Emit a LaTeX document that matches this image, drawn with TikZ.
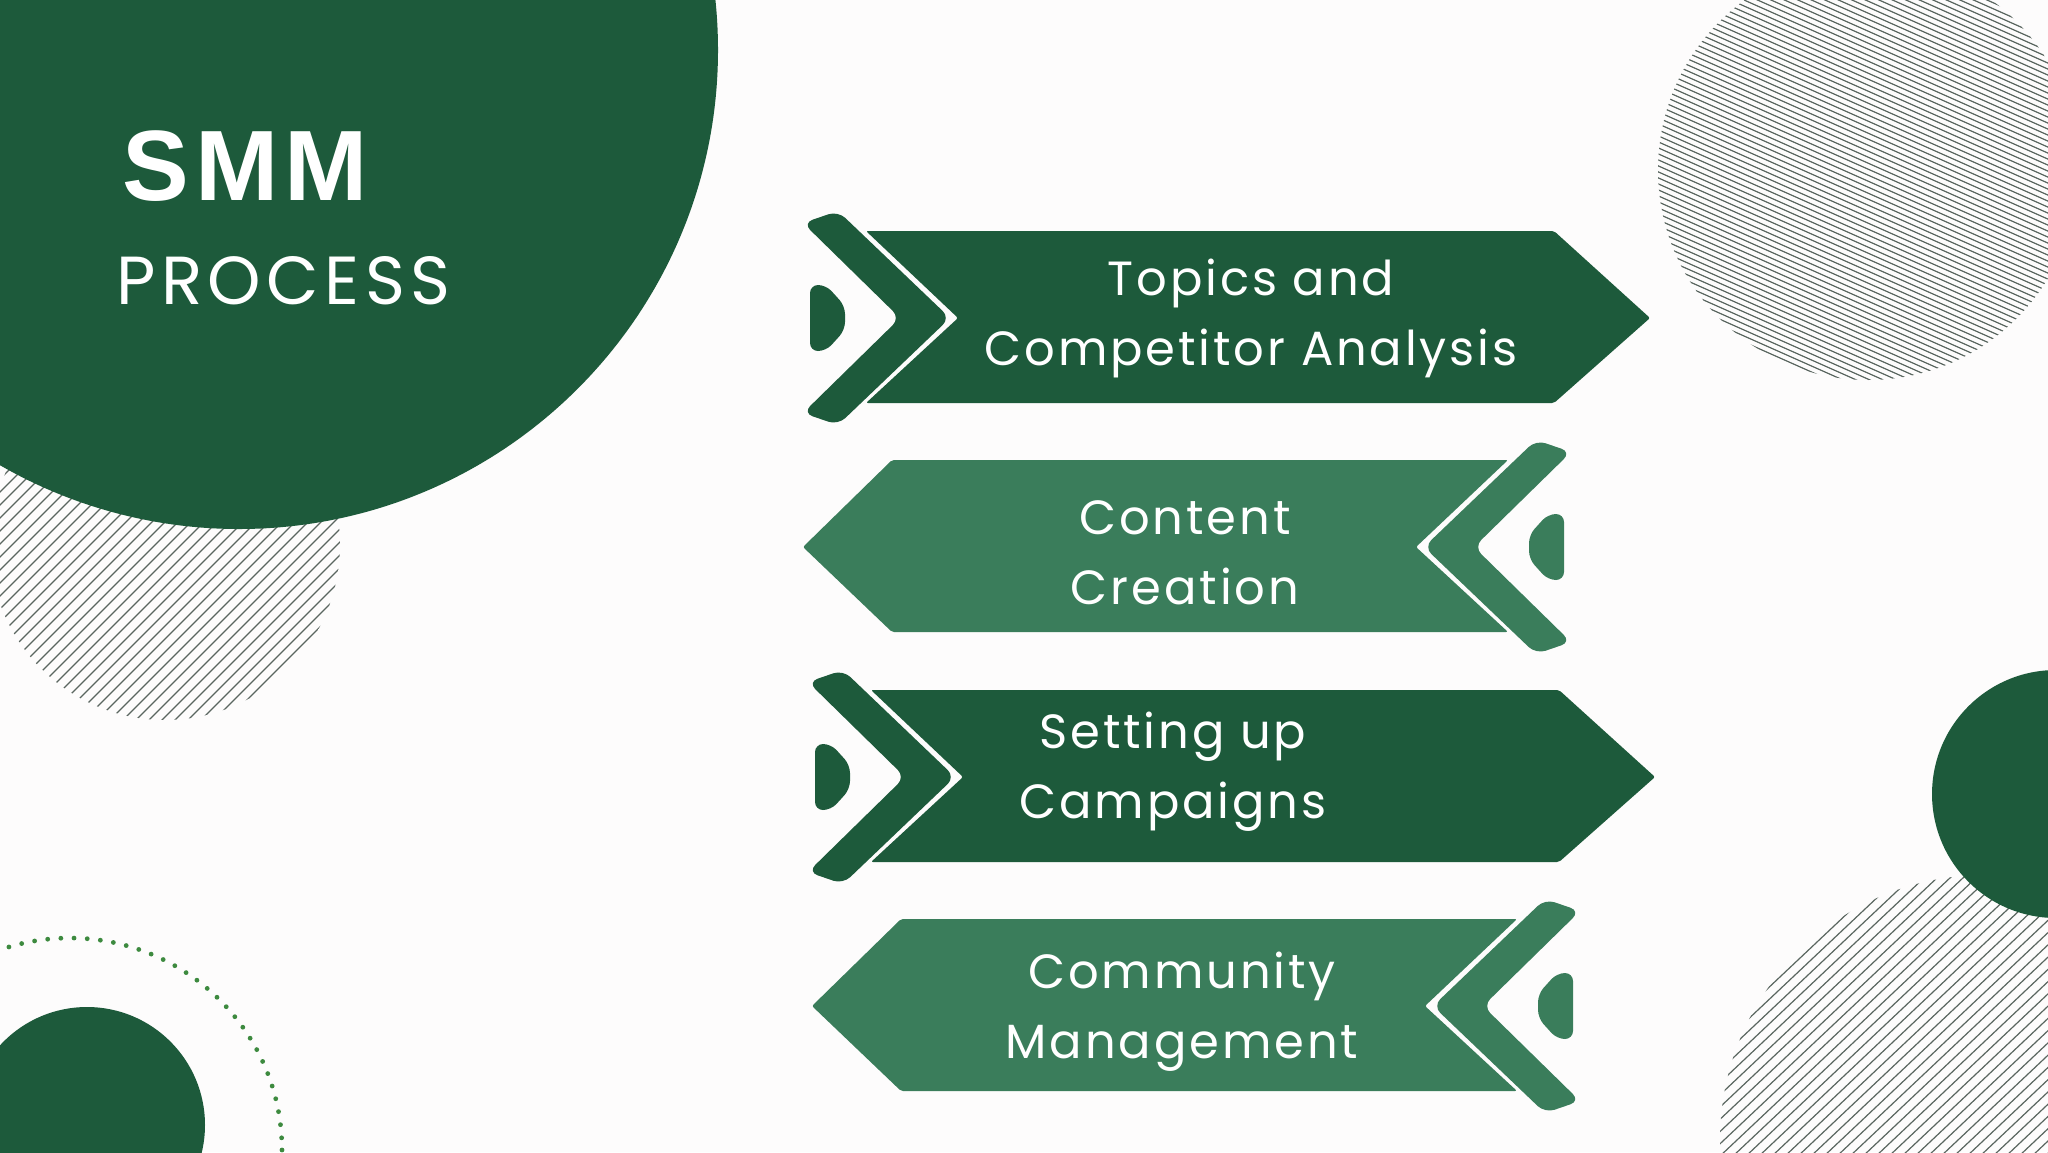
\documentclass[tikz,border=0pt]{standalone}
\usepackage{fontspec}
\newfontfamily\arrfont{Poppins}[LetterSpace=6]
\newfontfamily\procfont{Poppins}[LetterSpace=8]
\newfontfamily\smmfont{Liberation Sans}[LetterSpace=6]
\definecolor{dkg}{HTML}{1D5A3B}
\definecolor{ltg}{HTML}{3A7D5B}
\definecolor{bgc}{HTML}{FDFCFC}
\definecolor{hatch}{HTML}{5A6660}
\definecolor{dotg}{HTML}{3D8A3F}
\tikzset{
  pics/rarr/.style={code={
    \fill[dkg,rounded corners=5] (803,-95) -- (838,-107) -- (950,0) -- (838,107) -- (803,95) -- (900,0) -- cycle;
    \fill[dkg,rounded corners=1] (866,-87) -- (1554,-87) -- (1650,0) -- (1554,85) -- (866,85) -- (958,0) -- cycle;
    \fill[dkg,rounded corners=4] (810,-33) -- (826,-33) -- (845,-12) -- (845,12) -- (826,33) -- (810,33) -- cycle;
  }},
  pics/larr/.style={code={
    \fill[ltg,rounded corners=5] (1571,-95) -- (1536,-107) -- (1424,0) -- (1536,107) -- (1571,95) -- (1474,0) -- cycle;
    \fill[ltg,rounded corners=1] (892,-87) -- (1508,-87) -- (1416,0) -- (1508,85) -- (892,85) -- (803,0) -- cycle;
    \fill[ltg,rounded corners=4] (1564,-33) -- (1548,-33) -- (1529,-12) -- (1529,12) -- (1548,33) -- (1564,33) -- cycle;
  }},
  lbl/.style={text=white,font=\arrfont\fontsize{24}{35}\selectfont,align=center,inner sep=0},
  hl/.style={hatch,line width=0.6pt}
}
\begin{document}
\begin{tikzpicture}[x=0.5pt,y=-0.5pt]
\fill[bgc] (0,0) rectangle (2048,1152);
\useasboundingbox (0,0) rectangle (2048,1152);
\begin{scope}
\clip (0,0) rectangle (2048,1152);
% lower-left hatch circle
\begin{scope}
\clip (165,545) circle[radius=175];
\foreach \i in {-400,-387,...,400} \draw[hl] (165+\i-300,845) -- (165+\i+300,245);
\end{scope}
% big circle
\fill[dkg] (239,50) circle[radius=479];
% top-right hatch circle
\begin{scope}
\clip (1868,170) circle[radius=210];
\foreach \i in {-420,-414,...,420} \draw[hl] (1600,170+\i-120) -- (2140,170+\i+120);
\end{scope}
% bottom-right hatch circle
\begin{scope}
\clip (1985,1140) circle[radius=265];
\foreach \i in {-560,-547,...,560} \draw[hl] (1985+\i-350,1140+\i*0+330) -- (1985+\i+350,1140-330);
\end{scope}
\fill[dkg] (2056,794) circle[radius=124];
% bottom-left
\draw[dotg,line width=2.4pt,line cap=round,dash pattern=on 0pt off 6.6pt] (70,1150) circle[radius=212];
\fill[dkg] (87,1125) circle[radius=118];
\end{scope}
% title
\node[anchor=base west,inner sep=0,text=white,font=\smmfont\bfseries\fontsize{50}{50}\selectfont] (smm) at (122,200) {SMM};
\node[anchor=base west,inner sep=0,text=white,font=\procfont\fontsize{34}{34}\selectfont] (proc) at (116,304) {PROCESS};
% arrows
\pic at (0,318) {rarr};
\pic at (0,547) {larr};
\pic at (5,777) {rarr};
\pic at (9,1006) {larr};
\node[lbl] (t1) at (1251,318) {Topics and\\Competitor Analysis};
\node[lbl] (t2) at (1185,553) {Content\\Creation};
\node[lbl] (t3) at (1173,772) {Setting up\\Campaigns};
\node[lbl] (t4) at (1182,1012) {Community\\Management};
\end{tikzpicture}
\end{document}
